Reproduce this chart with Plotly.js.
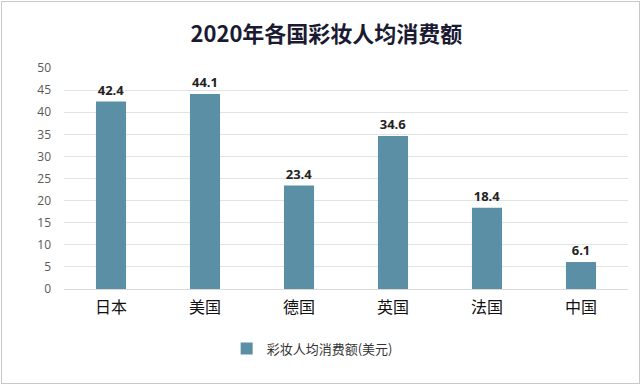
<!DOCTYPE html>
<html><head><meta charset="utf-8">
<script src="https://cdn.plot.ly/plotly-3.0.1.min.js"></script>
<style>
html,body{margin:0;padding:0;background:#fff;}
#wrap{position:relative;width:640px;height:384px;}
#frame{position:absolute;left:1px;top:1px;width:637px;height:381px;border:1px solid #c8c8c8;pointer-events:none;}
</style></head>
<body><div id="wrap"><div id="chart" style="width:640px;height:384px;"></div><div id="frame"></div></div>
<script>
const categories = ['日本','美国','德国','英国','法国','中国'];
const values = [42.4, 44.1, 23.4, 34.6, 18.4, 6.1];
const seriesName = '彩妆人均消费额(美元)';
const yTicks = [0,5,10,15,20,25,30,35,40,45,50];

const trace = {
  type:'bar', x:categories, y:values, name:seriesName,
  marker:{color:'#5b8fa6'}, width:0.32,
  text:values.map(v=>v.toFixed(1)), textposition:'outside', cliponaxis:false,
  textfont:{family:'Open Sans, Noto Sans, sans-serif', size:13, color:'#222', weight:'bold'},
  showlegend:true
};
const layout = {
  width:640, height:384,
  margin:{l:64, r:12, t:68, b:95},
  paper_bgcolor:'#fff', plot_bgcolor:'#fff',
  title:{text:'2020年各国彩妆人均消费额', x:0.51, xanchor:'center', y:0.91, yanchor:'middle',
    font:{family:'Noto Sans CJK SC, sans-serif', size:22, color:'#1a1a33', weight:'bold'}},
  xaxis:{type:'category', showgrid:false, showline:true, linecolor:'#d9d9d9', linewidth:1,
    ticks:'', tickfont:{family:'Noto Sans CJK SC, sans-serif', size:16, color:'#111'}, ticklabelstandoff:4},
  yaxis:{range:[0,50], tickvals:yTicks, showgrid:true, gridcolor:'#e3e3e3', zeroline:false, showline:false,
    ticks:'', ticklabelstandoff:12, tickfont:{family:'Open Sans, Noto Sans, sans-serif', size:12, color:'#595959'}},
  legend:{orientation:'h', x:0.44, xanchor:'center', y:-0.27, yanchor:'middle',
    font:{family:'Noto Sans CJK SC, sans-serif', size:13, color:'#333'}, itemwidth:30},
  bargap:0.68
};
Plotly.newPlot('chart',[trace],layout,{displayModeBar:false,staticPlot:true});
</script></body></html>
